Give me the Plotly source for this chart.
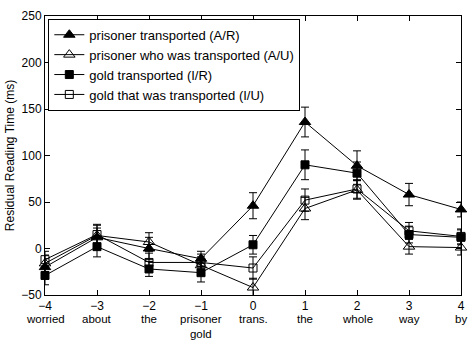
import plotly.graph_objects as go

positions = [-4, -3, -2, -1, 0, 1, 2, 3, 4]
words = ["worried", "about", "the", "prisoner<br>gold", "trans.", "the", "whole", "way", "by"]

names = ["prisoner transported (A/R)", "prisoner who was transported (A/U)",
         "gold transported (I/R)", "gold that was transported (I/U)"]

ar_vals = [-20, 12, 0, -11, 46, 136, 89, 58, 42]
ar_err = [9, 10, 12, 8, 14, 16, 16, 12, 8]
au_vals = [-16, 14, 7, -18, -42, 43, 63, 2, 1]
au_err = [9, 11, 10, 9, 10, 12, 10, 8, 8]
ir_vals = [-29, 2, -22, -26, 4, 90, 81, 15, 12]
ir_err = [10, 11, 8, 10, 10, 16, 12, 9, 8]
iu_vals = [-12, 15, -15, -15, -21, 52, 64, 19, 13]
iu_err = [9, 11, 10, 9, 12, 12, 10, 9, 8]

series = [ar_vals, au_vals, ir_vals, iu_vals]
errors = [ar_err, au_err, ir_err, iu_err]
symbols = ["triangle-up", "triangle-up-open", "square", "square-open"]
sizes = [10, 10, 8, 8]

fig = go.Figure()
for nm, vals, err, sym, sz in zip(names, series, errors, symbols, sizes):
    fig.add_trace(go.Scatter(
        x=positions, y=vals, name=nm, mode="lines+markers",
        line=dict(color="black", width=1),
        marker=dict(symbol=sym, size=sz, color="black",
                    line=dict(color="black", width=1)),
        error_y=dict(type="data", array=err, visible=True,
                     color="black", thickness=1, width=4),
        cliponaxis=False,
    ))

for xp, w in zip(positions, words):
    fig.add_annotation(x=xp, y=0, xref="x", yref="paper", text=w,
                       showarrow=False, yanchor="top", yshift=-17, borderpad=0,
                       font=dict(size=11.5, color="black"))

axis_common = dict(showline=True, linecolor="black", linewidth=1, mirror="ticks",
                   ticks="inside", ticklen=5, tickcolor="black", showgrid=False,
                   zeroline=False, tickfont=dict(size=12, color="black"))

fig.update_layout(
    width=474, height=345,
    margin=dict(l=40, r=12, t=9, b=50),
    plot_bgcolor="white", paper_bgcolor="white",
    font=dict(family="Liberation Sans, Arial, sans-serif", size=12, color="black"),
    xaxis=dict(range=[-4, 4], tickmode="array", tickvals=positions, **axis_common),
    yaxis=dict(range=[-50, 250], tickmode="array", tickvals=[-50, 0, 50, 100, 150, 200, 250],
               title=dict(text="Residual Reading Time (ms)", standoff=4,
                          font=dict(size=12)), **axis_common),
    legend=dict(x=0.008, y=0.99, xanchor="left", yanchor="top",
                bgcolor="white", bordercolor="black", borderwidth=1,
                font=dict(size=13), tracegroupgap=0),
    showlegend=True,
)

fig.write_html("out.html")
